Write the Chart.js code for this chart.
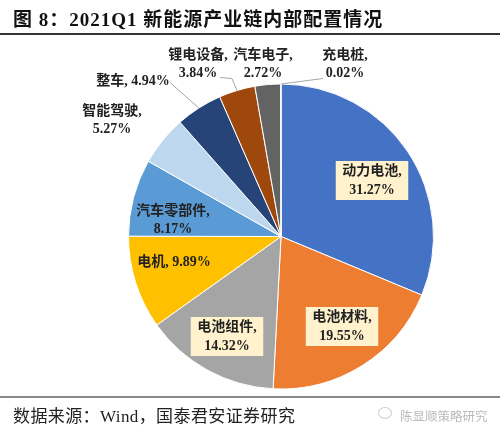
<!DOCTYPE html>
<html>
<head>
<meta charset="utf-8">
<script src="https://cdn.jsdelivr.net/npm/chart.js@4"></script>
<style>
    body { margin: 0; background: #fff; width: 500px; height: 435px; overflow: hidden; position: relative;
           font-family: 'Liberation Serif', 'Noto Sans CJK SC', serif; }
    #wrap { position: absolute; left: 0; top: 0; width: 500px; height: 435px; }
    #title { position: absolute; left: 13px; top: 4px; font-size: 19px; font-weight: bold; color: #111;
             letter-spacing: 1px; white-space: nowrap; }
    #rule-top { position: absolute; left: 0; top: 33px; width: 500px; height: 2px; background: #333; }
    #rule-bottom { position: absolute; left: 0; top: 396px; width: 500px; height: 2px; background: #888; }
    #source { position: absolute; left: 13px; top: 402px; font-size: 17px; color: #222; white-space: nowrap;
              letter-spacing: 0.4px; }
    #mark { position: absolute; left: 400px; top: 406px; font-size: 12.5px; color: #bbb; white-space: nowrap; }
    #mark-icon { position: absolute; left: 378px; top: 407px; width: 12px; height: 10px; border: 1px solid #ccc;
                 border-radius: 50%; }
</style>
</head>
<body>
<div id="wrap"><canvas id="pie-chart" width="500" height="435"></canvas></div>
<div id="title">图 8：2021Q1 新能源产业链内部配置情况</div>
<div id="rule-top"></div>
<div id="rule-bottom"></div>
<div id="source">数据来源：Wind，国泰君安证券研究</div>
<div id="mark-icon"></div>
<div id="mark">陈显顺策略研究</div>
<script>
// Sectors, clockwise from 12 o'clock
const sectors = ['动力电池', '电池材料', '电池组件', '电机', '汽车零部件',
                 '智能驾驶', '整车', '锂电设备', '汽车电子', '充电桩'];
// Weight of each sector (%)
const weights = [31.27, 19.55, 14.32, 9.89, 8.17, 5.27, 4.94, 3.84, 2.72, 0.02];

const sliceColors = ['#4472C4', '#ED7D31', '#A5A5A5', '#FFC000', '#5B9BD5',
                     '#BDD7EE', '#264478', '#9E480E', '#636363', '#997300'];

// Where each label goes, relative to the pie centre (px)
const labelLayout = [
    { dx: 91, dy: -56, box: true },
    { dx: 61, dy: 90, box: true },
    { dx: -54, dy: 100, box: true },
    { dx: -107, dy: 26, oneLine: true },
    { dx: -108, dy: -16 },
    { dx: -169, dy: -116 },
    { dx: -148, dy: -155, oneLine: true, line: [[-111, -154]] },
    { dx: -83, dy: -172, line: [[-61, -159], [-49, -158]] },
    { dx: -18, dy: -172 },
    { dx: 64, dy: -172, line: [[42, -158]] }
];

// Draw the slice labels and leader lines
const sliceLabels = {
    id: 'sliceLabels',
    afterDatasetsDraw(chart) {
        const ctx = chart.ctx;
        const arcs = chart.getDatasetMeta(0).data;
        ctx.save();
        ctx.font = "bold 14px 'Liberation Serif', 'Noto Sans CJK SC'";
        ctx.textAlign = 'center';
        ctx.textBaseline = 'middle';
        arcs.forEach((arc, i) => {
            const L = labelLayout[i];
            const cx = arc.x, cy = arc.y;
            const pct = weights[i].toFixed(2) + '%';
            const lines = L.oneLine ? [sectors[i] + ', ' + pct] : [sectors[i] + ',', pct];
            const x = cx + L.dx, y = cy + L.dy;
            const lh = L.box ? 19 : 18;

            if (L.line) {
                const mid = (arc.startAngle + arc.endAngle) / 2;
                ctx.strokeStyle = '#A6A6A6';
                ctx.lineWidth = 1;
                ctx.beginPath();
                L.line.forEach((p, k) => {
                    if (k === 0) ctx.moveTo(cx + p[0], cy + p[1]);
                    else ctx.lineTo(cx + p[0], cy + p[1]);
                });
                ctx.lineTo(cx + Math.cos(mid) * arc.outerRadius, cy + Math.sin(mid) * arc.outerRadius);
                ctx.stroke();
            }

            if (L.box) {
                const w = Math.max(...lines.map(t => ctx.measureText(t).width)) + 13;
                const h = lines.length * lh + 1;
                ctx.fillStyle = '#FFF2CC';
                ctx.fillRect(x - w / 2, y - h / 2, w, h);
            }

            ctx.fillStyle = '#222';
            lines.forEach((t, k) => {
                ctx.fillText(t, x, y + (k - (lines.length - 1) / 2) * lh);
            });
        });
        ctx.restore();
    }
};

const ctx = document.getElementById('pie-chart').getContext('2d');
const pieChart = new Chart(ctx, {
    type: 'pie',
    data: {
        labels: sectors,
        datasets: [{
            data: weights,
            backgroundColor: sliceColors,
            borderColor: '#fff',
            borderWidth: 1
        }]
    },
    options: {
        responsive: false,
        animation: false,
        layout: {
            padding: { top: 83, bottom: 45, left: 128, right: 66 }
        },
        plugins: {
            legend: { display: false },
            tooltip: { enabled: false }
        }
    },
    plugins: [sliceLabels]
});
</script>
</body>
</html>
